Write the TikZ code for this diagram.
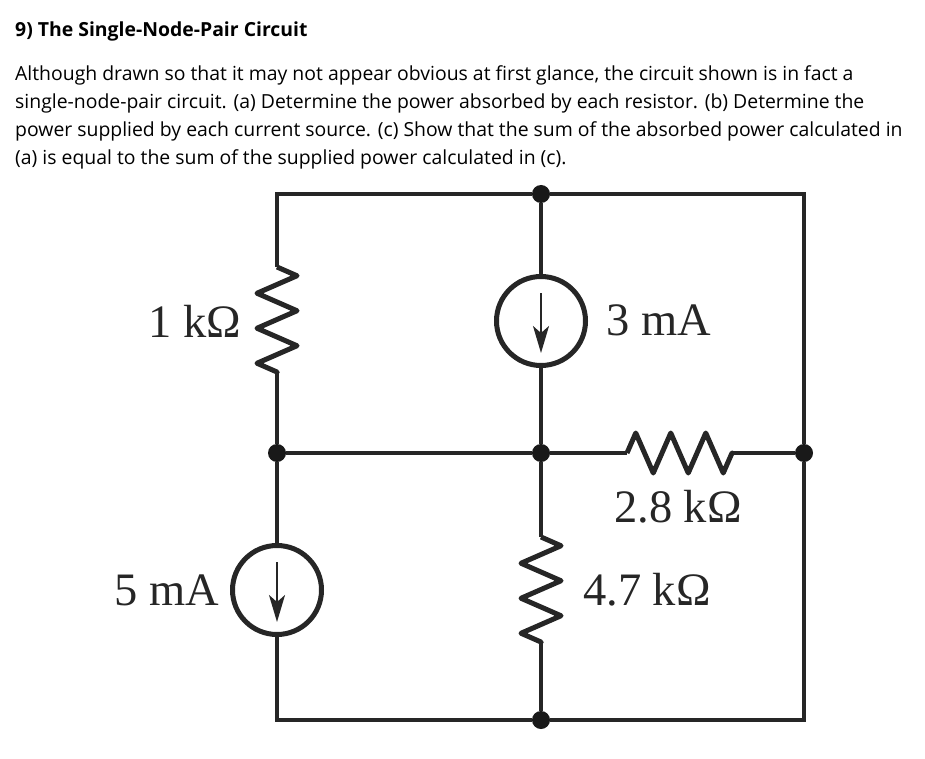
\documentclass[tikz,border=0pt]{standalone}
\usepackage{fontspec}
\setmainfont{Liberation Serif}
\newfontfamily\bodyfont{Open Sans}
\usetikzlibrary{arrows.meta,decorations.pathmorphing}

\begin{document}
\begin{tikzpicture}[x=1pt, y=-1pt,
    wire/.style={line width=3.5pt, draw=black!85},
    junction/.style={circle, fill=black!90, inner sep=0pt, minimum size=18pt},
    resistor/.style={line width=5pt, draw=black!85, line join=round, decorate,
        decoration={zigzag, segment length=35pt, amplitude=20pt}},
    source/.style={circle, draw=black!85, line width=5pt, fill=white, inner sep=0pt, minimum size=89pt},
    current/.style={line width=2pt, black!85, -{Stealth[length=27pt, width=16pt, inset=7pt]}},
    value/.style={anchor=base west, inner sep=0pt, text=black!85, font=\fontsize{46.5}{50}\selectfont},
    heading/.style={anchor=base west, inner sep=0pt, font=\bodyfont\bfseries\fontsize{19.4}{28}\selectfont},
    problem/.style={anchor=base west, inner sep=0pt, align=left, font=\bodyfont\fontsize{19.4}{28}\selectfont}]

    \useasboundingbox (0,0) rectangle (925,759);

    \node[heading] (title) at (15,37) {9) The Single-Node-Pair Circuit};
    \node[problem] (text) at (15,165) {Although drawn so that it may not appear obvious at first glance, the circuit shown is in fact a\\
        single-node-pair circuit. (a) Determine the power absorbed by each resistor. (b) Determine the\\
        power supplied by each current source. (c) Show that the sum of the absorbed power calculated in\\
        (a) is equal to the sum of the supplied power calculated in (c).};

    % corners of the frame
    \coordinate (tl) at (277,194);
    \coordinate (tr) at (804,194);
    \coordinate (bl) at (277,720);
    \coordinate (br) at (804,720);

    \node[junction] (top) at (541,194) {};
    \node[junction] (left) at (277,453) {};
    \node[junction] (mid) at (541,453) {};
    \node[junction] (right) at (804,453) {};
    \node[junction] (bottom) at (541,720) {};

    \node[source] (src3) at (541,321) {};
    \node[source] (src5) at (277,590) {};

    \coordinate (r1a) at (277,267);
    \coordinate (r1b) at (277,373);
    \coordinate (r2a) at (627,453);
    \coordinate (r2b) at (733,453);
    \coordinate (r3a) at (541,537);
    \coordinate (r3b) at (541,643);

    \draw[wire] (top) -- (tl) -- (r1a);
    \draw[wire] (r1b) -- (left);
    \draw[wire] (top) -- (tr) -- (right);
    \draw[wire] (right) -- (br) -- (bottom);
    \draw[wire] (bottom) -- (bl) -- (src5);
    \draw[wire] (src5) -- (left);
    \draw[wire] (left) -- (mid);
    \draw[wire] (top) -- (src3);
    \draw[wire] (src3) -- (mid);
    \draw[wire] (mid) -- (r2a);
    \draw[wire] (r2b) -- (right);
    \draw[wire] (mid) -- (r3a);
    \draw[wire] (r3b) -- (bottom);

    \draw[resistor] (r1a) -- (r1b);
    \draw[resistor] (r2a) -- (r2b);
    \draw[resistor] (r3a) -- (r3b);

    \draw[current] ([yshift=28pt]src3.center) -- ([yshift=-32pt]src3.center);
    \draw[current] ([yshift=28pt]src5.center) -- ([yshift=-32pt]src5.center);

    \node[value] (lab1) at (148,337) {1 kΩ};
    \node[value] (lab3) at (606,335) {3 mA};
    \node[value] (lab28) at (614,522) {2.8 kΩ};
    \node[value] (lab47) at (583,605) {4.7 kΩ};
    \node[value] (lab5) at (114,605) {5 mA};

\end{tikzpicture}
\end{document}
